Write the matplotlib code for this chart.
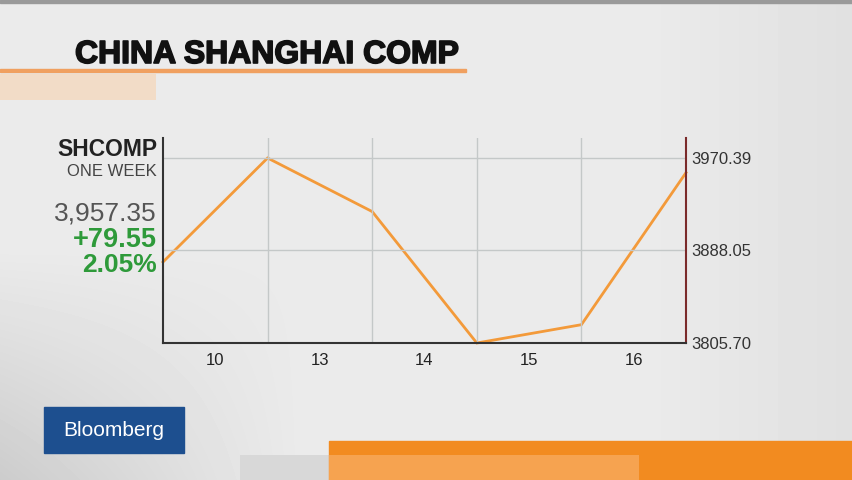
import numpy as np
import matplotlib.pyplot as plt
from matplotlib.patches import Rectangle
import matplotlib.patheffects as pe

# one week of SHCOMP closes (first point = previous close)
positions = [0, 1, 2, 3, 4, 5]
closes = [3877.80, 3970.39, 3922.70, 3805.70, 3822.00, 3957.35]
day_labels = ["10", "13", "14", "15", "16"]
y_ticks = [3805.70, 3888.05, 3970.39]
last_price = "3,957.35"
net_change = "+79.55"
pct_change = "2.05%"

W, H = 853, 480
fig = plt.figure(figsize=(W / 100, H / 100), dpi=100)

# background with a soft gradient
bg = fig.add_axes([0, 0, 1, 1], zorder=-5)
bg.set_xlim(0, W)
bg.set_ylim(H, 0)
bg.axis("off")
yy, xx = np.mgrid[0:H, 0:W]
shade = 0.92 - 0.12 * np.clip((yy - 250) / 230, 0, 1) * np.clip((300 - xx) / 300, 0, 1) \
    - 0.04 * np.clip((xx - 650) / 200, 0, 1)
bg.imshow(shade, cmap="gray", vmin=0, vmax=1, extent=[0, W, H, 0], aspect="auto")
bg.add_patch(Rectangle((0, 0), W, 3, color="#9a9a9a"))

# title block
bg.text(75, 55, "CHINA SHANGHAI COMP", fontsize=23, fontweight="bold",
        family="Liberation Sans", color="#111111", va="center", ha="left",
        path_effects=[pe.withStroke(linewidth=1.2, foreground="#111111")])
bg.add_patch(Rectangle((0, 69), 466, 3, color="#f0a060"))
bg.add_patch(Rectangle((0, 74), 156, 26, facecolor="#f5d6b8", edgecolor="none", alpha=0.7))

# side stats
bg.text(157, 149, "SHCOMP", fontsize=16.5, fontweight="bold", family="Liberation Sans",
        color="#222222", ha="right", va="center")
bg.text(157, 171, "ONE WEEK", fontsize=12, family="Liberation Sans",
        color="#444444", ha="right", va="center")
bg.text(157, 214, last_price, fontsize=19, family="Liberation Sans",
        color="#555555", ha="right", va="center")
bg.text(157, 240, net_change, fontsize=19.5, fontweight="bold", family="Liberation Sans",
        color="#2e9a3a", ha="right", va="center")
bg.text(157, 265, pct_change, fontsize=19, fontweight="bold", family="Liberation Sans",
        color="#2e9a3a", ha="right", va="center")

# bottom branding
bg.add_patch(Rectangle((44, 407), 140, 46, color="#1d4f8f"))
bg.text(114, 431, "Bloomberg", fontsize=15, color="white", family="Liberation Sans",
        ha="center", va="center")
bg.add_patch(Rectangle((240, 455), 150, 25, facecolor="#d8d8d8", edgecolor="none"))
bg.add_patch(Rectangle((329, 441), W - 329, 39, color="#f28b20"))
bg.add_patch(Rectangle((329, 455), 310, 25, facecolor="#f6a350", edgecolor="none"))

# chart
ax = fig.add_axes([163 / W, (H - 343) / H, 523 / W, 205 / H])
ax.patch.set_alpha(0)
ax.plot(positions, closes, color="#f39a3a", lw=2, solid_joinstyle="miter", clip_on=False)
ax.set_xlim(0, 5)
ax.set_ylim(3805.70, 3988.2)

ax.set_xticks([0.5, 1.5, 2.5, 3.5, 4.5])
ax.set_xticklabels(day_labels, fontsize=12, family="Liberation Sans", color="#222222")
for x in [1, 2, 3, 4]:
    ax.axvline(x, color="#c4c8c8", lw=1)
for y in y_ticks[1:]:
    ax.axhline(y, color="#c4c8c8", lw=1)

ax.yaxis.tick_right()
ax.set_yticks(y_ticks)
ax.set_yticklabels([f"{v:.2f}" for v in y_ticks], fontsize=12,
                   family="Liberation Sans", color="#333333")
ax.tick_params(length=0, pad=4)
ax.tick_params(axis="x", pad=7)

ax.spines["top"].set_visible(False)
ax.spines["left"].set_color("#333333")
ax.spines["bottom"].set_color("#333333")
ax.spines["right"].set_color("#7a2a2a")
for s in ["left", "bottom", "right"]:
    ax.spines[s].set_linewidth(1.5)

fig.savefig("out.png", dpi=100)
